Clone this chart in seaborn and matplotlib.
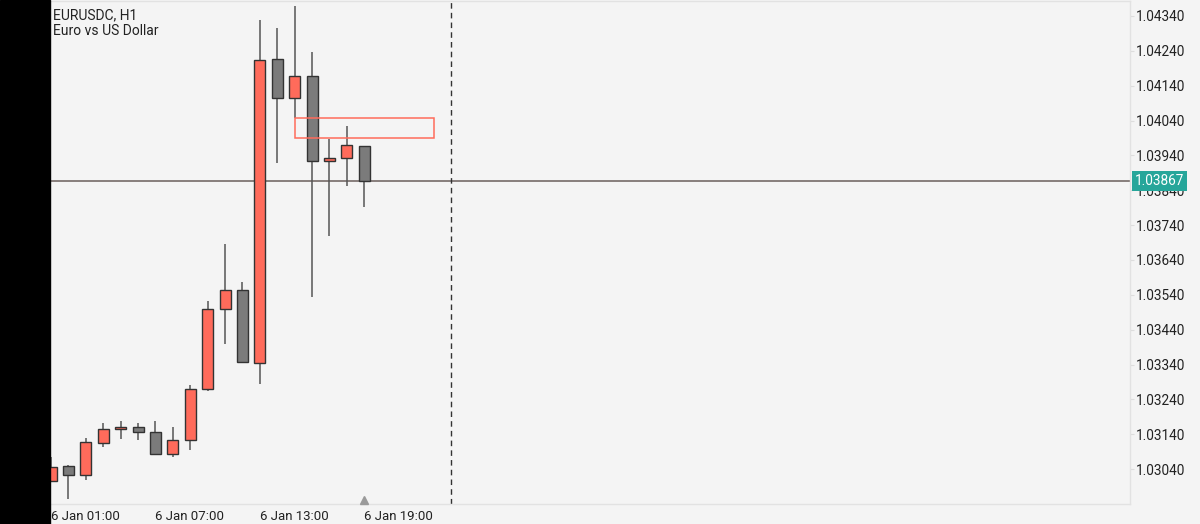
import matplotlib
matplotlib.use("Agg")
import matplotlib.pyplot as plt
import matplotlib.transforms as mtransforms
from matplotlib.patches import Rectangle
import seaborn as sns
import numpy as np
import pandas as pd

# ---- data (EURUSD H1, 6 Jan 01:00 .. 19:00) ----
hours = ["01:00", "02:00", "03:00", "04:00", "05:00", "06:00", "07:00", "08:00",
         "09:00", "10:00", "11:00", "12:00", "13:00", "14:00", "15:00", "16:00",
         "17:00", "18:00", "19:00"]
opens = [1.03006, 1.03048, 1.03024, 1.03115, 1.03155, 1.03160, 1.03147, 1.03084,
         1.03124, 1.03269, 1.03499, 1.03553, 1.03345, 1.04216, 1.04106, 1.04168,
         1.03924, 1.03932, 1.03966]
highs = [1.03075, 1.03052, 1.03130, 1.03173, 1.03179, 1.03171, 1.03178, 1.03162,
         1.03281, 1.03522, 1.03685, 1.03577, 1.04328, 1.04305, 1.04369, 1.04238,
         1.03987, 1.04025, 1.03967]
lows = [1.03003, 1.02954, 1.03009, 1.03104, 1.03127, 1.03124, 1.03081, 1.03074,
        1.03095, 1.03264, 1.03399, 1.03346, 1.03283, 1.03919, 1.04047, 1.03535,
        1.03710, 1.03853, 1.03792]
closes = [1.03046, 1.03024, 1.03118, 1.03155, 1.03160, 1.03147, 1.03084, 1.03123,
          1.03269, 1.03499, 1.03553, 1.03347, 1.04214, 1.04105, 1.04168, 1.03924,
          1.03932, 1.03969, 1.03867]
current_price = 1.03867
zone_hours = [14, 22]          # zone from 15:00 to 23:00 (hour index)
zone_prices = [1.03991, 1.04046]
y_ticks = [1.03040, 1.03140, 1.03240, 1.03340, 1.03440, 1.03540, 1.03640,
           1.03740, 1.03840, 1.03940, 1.04040, 1.04140, 1.04240, 1.04340]
x_tick_idx = [0, 6, 12, 18]
x_tick_labels = ["6 Jan 01:00", "6 Jan 07:00", "6 Jan 13:00", "6 Jan 19:00"]
title_lines = ["EURUSDC, H1", "Euro vs US Dollar"]

df = pd.DataFrame({"hour": hours, "open": opens, "high": highs,
                   "low": lows, "close": closes})
df["idx"] = np.arange(len(df))
df["up"] = df["close"] >= df["open"]

# ---- style ----
sns.set_theme(style="white")
plt.rcParams["font.family"] = ["Roboto", "DejaVu Sans"]

BG = "#f4f4f4"
RED = "#ff6b5b"
GREY = "#7b7b7b"
EDGE = "#333333"
TXT = "#222222"

fig = plt.figure(figsize=(12, 5.24), dpi=100, facecolor=BG)
ax = fig.add_axes([50 / 1200, 20 / 524, 1080 / 1200, 503 / 524])
ax.set_facecolor(BG)

# wicks
ax.vlines(df["idx"], df["low"], df["high"], color="#555555", lw=1.1, zorder=2)

# bodies
bottoms = np.minimum(df["open"], df["close"])
heights = np.maximum(np.abs(df["close"] - df["open"]), 0.00004)
colors = [RED if u else GREY for u in df["up"]]
ax.bar(df["idx"], heights, bottom=bottoms, width=0.63, color=colors,
       edgecolor=EDGE, linewidth=1.0, zorder=3)

# zone rectangle
ax.add_patch(Rectangle((zone_hours[0], zone_prices[0]), zone_hours[1] - zone_hours[0],
                       zone_prices[1] - zone_prices[0], fill=False,
                       edgecolor=RED, lw=1.1, zorder=4))

# current price line
ax.axhline(current_price, color="#6a5e5c", lw=1.1, zorder=1)

# dashed period separator
ax.axvline(23, color="#333333", lw=1.0, ls=(0, (4, 3)), zorder=1)

# limits
ax.set_xlim(-0.06, 62.0)
ax.set_ylim(1.02940, 1.04383)

# y ticks on the right
ax.yaxis.tick_right()
ax.set_yticks(y_ticks)
ax.set_yticklabels([f"{v:.5f}" for v in y_ticks])
ax.tick_params(axis="y", which="both", right=True, length=3, width=0.8,
               color="#dddddd", pad=1.5, labelsize=9.8, labelcolor=TXT)

# x ticks
ax.set_xticks(x_tick_idx)
ax.set_xticklabels(x_tick_labels)
for lab in ax.get_xticklabels():
    lab.set_horizontalalignment("left")
ax.tick_params(axis="x", which="both", bottom=True, length=0, pad=4.5,
               labelsize=9.5, labelcolor=TXT)
ax.set_xlabel("")
ax.set_ylabel("")

for side in ["top", "right", "bottom"]:
    ax.spines[side].set_visible(True)
    ax.spines[side].set_color("#e2e2e2")
    ax.spines[side].set_linewidth(1.0)
ax.spines["left"].set_visible(False)

# current price label
trans = mtransforms.blended_transform_factory(ax.transAxes, ax.transData)
ax.text(1.0045, current_price, f"{current_price:.5f}", transform=trans,
        ha="left", va="center", color="white", fontsize=9.8, zorder=10,
        bbox=dict(boxstyle="square,pad=0.2", fc="#26a69a", ec="none"),
        clip_on=False)

# current bar marker at the bottom
trans_x = mtransforms.blended_transform_factory(ax.transData, ax.transAxes)
ax.plot([18], [0.008], marker="^", color="#9a9a9a", markersize=6,
        transform=trans_x, clip_on=False, zorder=5)

# title
ax.text(0.0028, 0.972, title_lines[0], transform=ax.transAxes, ha="left",
        va="center", fontsize=10, color=TXT)
ax.text(0.0028, 0.940, title_lines[1], transform=ax.transAxes, ha="left",
        va="center", fontsize=10, color=TXT)

# black strip on the left
fig.patches.append(Rectangle((0, 0), 50 / 1200, 1, transform=fig.transFigure,
                             color="black", zorder=0))

fig.savefig("out.png", dpi=100, facecolor=BG)
